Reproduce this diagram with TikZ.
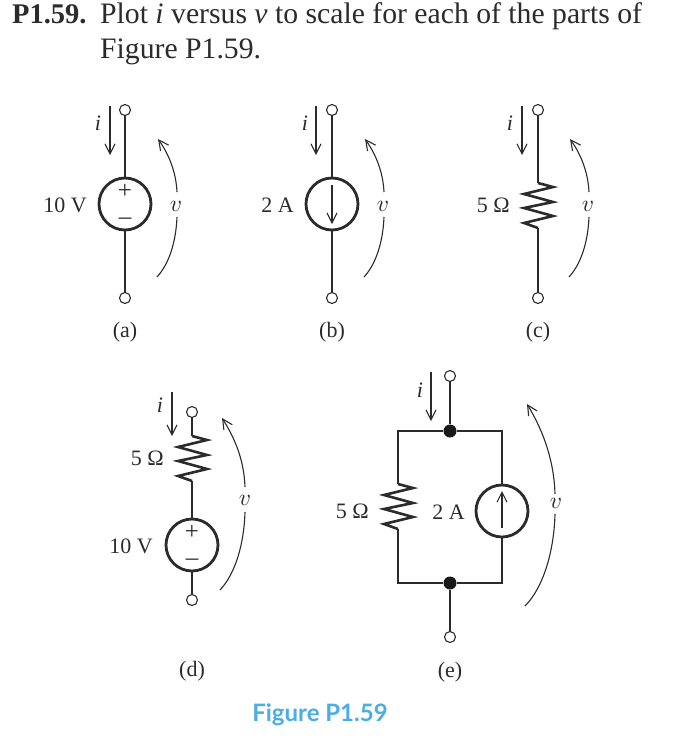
\documentclass[tikz,border=0pt]{standalone}
\usepackage{fontspec}
\setmainfont{Liberation Serif}
\newfontfamily\capfont{Lato}
\usetikzlibrary{arrows.meta,bending,calc}
\definecolor{figblue}{HTML}{4BADE3}
\definecolor{ink}{HTML}{2B2B2B}
\tikzset{
  x=1pt,y=-1pt,
  wire/.style={draw=ink,line width=1.2pt},
  term/.style={circle,draw=ink,line width=1.1pt,fill=white,minimum size=11pt,inner sep=0pt},
  junction/.style={circle,fill=black!90,minimum size=13pt,inner sep=0pt},
  source/.style={circle,draw=ink,line width=2.8pt,fill=white,minimum size=52pt,inner sep=0pt},
  lbl/.style={font=\fontsize{22}{24}\selectfont,text=ink,inner sep=0pt},
  ilbl/.style={font=\fontsize{22}{24}\selectfont\itshape,text=ink,inner sep=0pt},
  signlbl/.style={font=\fontsize{25}{26}\selectfont,text=ink,inner sep=0pt},
  vlbl/.style={font=\normalsize,scale=2.35,text=ink,inner sep=0pt},
  arrowline/.style={draw=ink,line width=1.1pt,-{Straight Barb[length=10pt,width=10pt]}},
  arcline/.style={draw=ink,line width=1.1pt},
  res/.style={draw=ink,line width=2.6pt,line join=miter},
  titletext/.style={anchor=base west,inner sep=0pt,text=ink},
}
% zigzag resistor: #1 centre x, #2 top y, #3 name prefix
\newcommand{\zig}[3]{%
  \coordinate (#3t) at (#1,#2);
  \coordinate (#3b) at (#1,#2+45);
  \draw[res] (#3t) -- (#1+15,#2+4) -- (#1-14,#2+11) -- (#1+15,#2+19) -- (#1-14,#2+25) -- (#1+15,#2+33) -- (#1-14,#2+40) -- (#3b);
}
\begin{document}
\begin{tikzpicture}
\useasboundingbox (0,0) rectangle (690,740);
\node[titletext,font=\fontsize{28.5}{30}\selectfont\bfseries] (title1) at (12,23.5) {P1.59.};
\node[titletext,font=\fontsize{29.7}{32}\selectfont] (title2) at (100,23.5) {Plot \textit{i} versus \textit{v} to scale for each of the parts of};
\node[titletext,font=\fontsize{29.7}{32}\selectfont] (title3) at (100,58) {Figure P1.59.};

% (a)
\node[term] (at) at (125,110) {};
\node[term] (ab) at (125,298) {};
\node[source] (as) at (125,204) {};
\draw[wire] (at) -- (as);
\draw[wire] (as) -- (ab);
\node[signlbl] (aplus) at (125,191) {+};
\node[signlbl] (aminus) at (125,221) {\textendash};
\node[lbl,anchor=east] (aval) at (87,205) {10 V};
\coordinate (ai1) at (110,106); \coordinate (ai2) at (110,155);
\draw[arrowline] (ai1) -- (ai2);
\node[ilbl] (ail) at (98,123) {i};
\node[vlbl] (avl) at (176,206) {$v$};
\coordinate (av1) at (157,277); \coordinate (av2) at (177,217); \coordinate (av3) at (177,192); \coordinate (av4) at (158,139);
\draw[arcline] (av1) .. controls (169,264) and (176,242) .. (av2);
\draw[arrowline] (av3) .. controls (176,172) and (169,154) .. (av4);
\node[lbl] (acap) at (125,332) {(a)};

% (b)
\node[term] (bt) at (332,110) {};
\node[term] (bb) at (332,298) {};
\node[source] (bs) at (332,204) {};
\draw[wire] (bt) -- (bs);
\draw[wire] (bs) -- (bb);
\coordinate (ba1) at (332,185); \coordinate (ba2) at (332,224);
\draw[arrowline] (ba1) -- (ba2);
\node[lbl,anchor=east] (bval) at (294,205) {2 A};
\coordinate (bi1) at (316,106); \coordinate (bi2) at (316,155);
\draw[arrowline] (bi1) -- (bi2);
\node[ilbl] (bil) at (305,123) {i};
\node[vlbl] (bvl) at (383,206) {$v$};
\coordinate (bv1) at (364,277); \coordinate (bv2) at (384,217); \coordinate (bv3) at (384,192); \coordinate (bv4) at (365,139);
\draw[arcline] (bv1) .. controls (376,264) and (383,242) .. (bv2);
\draw[arrowline] (bv3) .. controls (383,172) and (376,154) .. (bv4);
\node[lbl] (bcap) at (332,332) {(b)};

% (c)
\node[term] (ct) at (538,110) {};
\node[term] (cb) at (538,298) {};
\zig{538}{183}{cr}
\draw[wire] (ct) -- (crt);
\draw[wire] (crb) -- (cb);
\node[lbl,anchor=east] (cval) at (510,205) {5 Ω};
\coordinate (ci1) at (522,106); \coordinate (ci2) at (522,155);
\draw[arrowline] (ci1) -- (ci2);
\node[ilbl] (cil) at (510,123) {i};
\node[vlbl] (cvl) at (588,206) {$v$};
\coordinate (cv1) at (569,277); \coordinate (cv2) at (589,217); \coordinate (cv3) at (589,192); \coordinate (cv4) at (570,139);
\draw[arcline] (cv1) .. controls (581,264) and (588,242) .. (cv2);
\draw[arrowline] (cv3) .. controls (588,172) and (581,154) .. (cv4);
\node[lbl] (ccap) at (538,332) {(c)};

% (d)
\node[term] (dt) at (192,412) {};
\node[term] (db) at (192,600) {};
\zig{192}{436}{dr}
\node[source] (ds) at (192,545) {};
\draw[wire] (dt) -- (drt);
\draw[wire] (drb) -- (ds);
\draw[wire] (ds) -- (db);
\node[signlbl] (dplus) at (192,532) {+};
\node[signlbl] (dminus) at (192,562) {\textendash};
\node[lbl,anchor=east] (dval) at (164,458) {5 Ω};
\node[lbl,anchor=east] (dval2) at (153,546) {10 V};
\coordinate (di1) at (172,392); \coordinate (di2) at (172,436);
\draw[arrowline] (di1) -- (di2);
\node[ilbl] (dil) at (160,405) {i};
\node[vlbl] (dvl) at (245,500) {$v$};
\coordinate (dv1) at (220,590); \coordinate (dv2) at (245,512); \coordinate (dv3) at (245,487); \coordinate (dv4) at (222,418);
\draw[arcline] (dv1) .. controls (235,574) and (244,545) .. (dv2);
\draw[arrowline] (dv3) .. controls (244,460) and (235,438) .. (dv4);
\node[lbl] (dcap) at (192,671) {(d)};

% (e)
\node[term] (et) at (450,376) {};
\node[term] (eb) at (450,637) {};
\node[junction] (ej1) at (450,431) {};
\node[junction] (ej2) at (450,583) {};
\zig{398}{484}{er}
\node[source] (es) at (502,511) {};
\coordinate (ec1) at (398,431); \coordinate (ec2) at (502,431);
\coordinate (ec3) at (398,583); \coordinate (ec4) at (502,583);
\draw[wire] (et) -- (ej1);
\draw[wire] (ej2) -- (eb);
\draw[wire] (ej1) -- (ec1) -- (ert);
\draw[wire] (erb) -- (ec3) -- (ej2);
\draw[wire] (ej1) -- (ec2) -- (es);
\draw[wire] (es) -- (ec4) -- (ej2);
\coordinate (ea1) at (502,528); \coordinate (ea2) at (502,491);
\draw[arrowline] (ea1) -- (ea2);
\node[lbl,anchor=east] (eval) at (369,511) {5 Ω};
\node[lbl,anchor=east] (eval2) at (465,512) {2 A};
\coordinate (ei1) at (431,372); \coordinate (ei2) at (431,421);
\draw[arrowline] (ei1) -- (ei2);
\node[ilbl] (eil) at (420,390) {i};
\node[vlbl] (evl) at (556,503) {$v$};
\coordinate (ev1) at (525,606); \coordinate (ev2) at (555,514); \coordinate (ev3) at (555,494); \coordinate (ev4) at (527,404);
\draw[arcline] (ev1) .. controls (543,588) and (554,552) .. (ev2);
\draw[arrowline] (ev3) .. controls (554,460) and (543,430) .. (ev4);
\node[lbl] (ecap) at (450,672) {(e)};

\node[inner sep=0pt,text=figblue,font=\capfont\bfseries\fontsize{24}{26}\selectfont] (figcap) at (320,715) {Figure P1.59};
\end{tikzpicture}
\end{document}
